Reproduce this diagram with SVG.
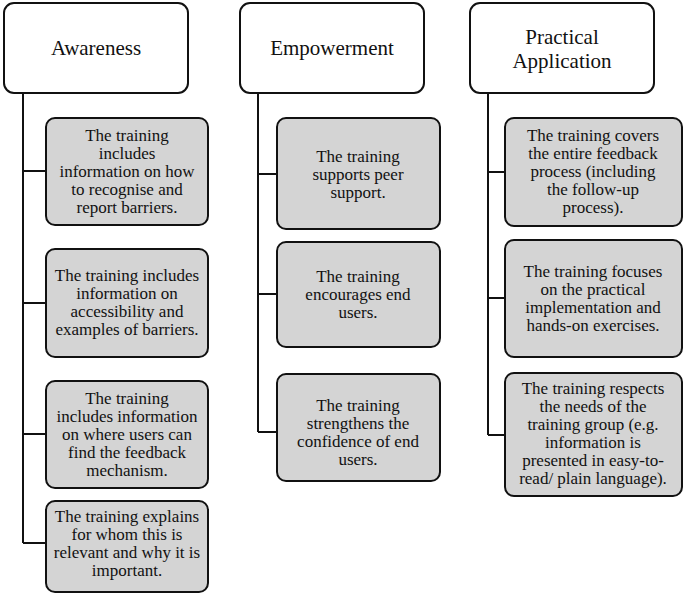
<svg xmlns="http://www.w3.org/2000/svg" width="685" height="595" viewBox="0 0 685 595">
<style>
.h{fill:#fff;stroke:#111;stroke-width:2}
.c{fill:#d4d4d4;stroke:#111;stroke-width:2}
text{font-family:"Liberation Serif","Times New Roman",serif;font-size:17px;fill:#111;text-anchor:middle}
.ht{font-size:21px}
.ln{stroke:#111;stroke-width:2;fill:none}
</style>
<rect width="685" height="595" fill="#fff"/>
<g id="connectors">
<path class="ln" d="M23 93V543M23 171H46M23 303H46M23 434H46M23 543H46"/>
<path class="ln" d="M258 93V432M258 174H277M258 294H277M258 432H277"/>
<path class="ln" d="M488 93V435M488 172H505M488 298H505M488 435H505"/>
</g>
<g id="awareness"><rect class="h" x="4" y="3" width="184" height="90" rx="10"/><text class="ht" x="96" y="55">Awareness</text></g>
<g id="empowerment"><rect class="h" x="240" y="3" width="184" height="90" rx="10"/><text class="ht" x="332" y="55">Empowerment</text></g>
<g id="practical"><rect class="h" x="470" y="3" width="184" height="90" rx="10"/><text class="ht" x="562" y="44">Practical</text><text class="ht" x="562" y="68">Application</text></g>
<g id="a1"><rect class="c" x="46" y="118" width="162" height="107" rx="9"/><text x="127" y="141">The training</text><text x="127" y="159">includes</text><text x="127" y="177">information on how</text><text x="127" y="195">to recognise and</text><text x="127" y="213">report barriers.</text></g>
<g id="a2"><rect class="c" x="46" y="249" width="162" height="108" rx="9"/><text x="127" y="281">The training includes</text><text x="127" y="299">information on</text><text x="127" y="317">accessibility and</text><text x="127" y="335">examples of barriers.</text></g>
<g id="a3"><rect class="c" x="46" y="381" width="162" height="107" rx="9"/><text x="127" y="404">The training</text><text x="127" y="422">includes information</text><text x="127" y="440">on where users can</text><text x="127" y="458">find the feedback</text><text x="127" y="476">mechanism.</text></g>
<g id="a4"><rect class="c" x="46" y="501" width="162" height="91" rx="9"/><text x="127" y="522">The training explains</text><text x="127" y="540">for whom this is</text><text x="127" y="558">relevant and why it is</text><text x="127" y="576">important.</text></g>
<g id="e1"><rect class="c" x="277" y="118" width="163" height="111" rx="9"/><text x="358" y="162">The training</text><text x="358" y="180">supports peer</text><text x="358" y="198">support.</text></g>
<g id="e2"><rect class="c" x="277" y="242" width="163" height="105" rx="9"/><text x="358" y="282">The training</text><text x="358" y="300">encourages end</text><text x="358" y="318">users.</text></g>
<g id="e3"><rect class="c" x="277" y="374" width="163" height="107" rx="9"/><text x="358" y="411">The training</text><text x="358" y="429">strengthens the</text><text x="358" y="447">confidence of end</text><text x="358" y="465">users.</text></g>
<g id="p1"><rect class="c" x="505" y="118" width="177" height="108" rx="9"/><text x="593" y="141">The training covers</text><text x="593" y="159">the entire feedback</text><text x="593" y="177">process (including</text><text x="593" y="195">the follow-up</text><text x="593" y="213">process).</text></g>
<g id="p2"><rect class="c" x="505" y="240" width="177" height="117" rx="9"/><text x="593" y="277">The training focuses</text><text x="593" y="295">on the practical</text><text x="593" y="313">implementation and</text><text x="593" y="331">hands-on exercises.</text></g>
<g id="p3"><rect class="c" x="505" y="373" width="177" height="123" rx="9"/><text x="593" y="394">The training respects</text><text x="593" y="412">the needs of the</text><text x="593" y="430">training group (e.g.</text><text x="593" y="448">information is</text><text x="593" y="466">presented in easy-to-</text><text x="593" y="484">read/ plain language).</text></g>
</svg>
